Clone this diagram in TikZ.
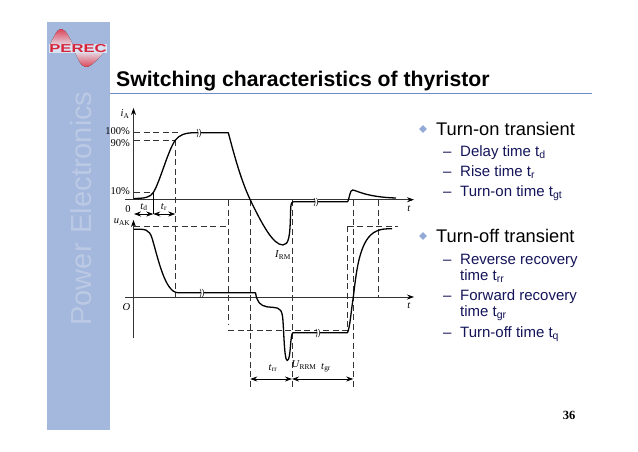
\documentclass[tikz,border=0pt]{standalone}
\usepackage{fontspec}
\setmainfont{Liberation Sans}
\newfontfamily\serifface{Liberation Serif}
\newfontfamily\logoface[FakeStretch=1.45]{Liberation Sans Bold}
\usetikzlibrary{arrows.meta,shapes.geometric}
\definecolor{panelblue}{HTML}{A3B8DC}
\definecolor{panelword}{HTML}{BBC9E4}
\definecolor{rulenavy}{HTML}{6F8CC8}
\definecolor{subnavy}{HTML}{14145A}
\definecolor{perecred}{HTML}{D8243A}
\tikzset{
  curve/.style={line width=1.3pt,line join=round},
  axis/.style={line width=0.7pt,black!80,-{Stealth[length=7pt,width=5pt,black]}},
  guide/.style={line width=0.6pt,dash pattern=on 6pt off 3.5pt,black!80},
  span/.style={line width=0.8pt,{Stealth[length=7pt,width=5pt]}-{Stealth[length=7pt,width=5pt]}},
  lab/.style={font=\serifface\fontsize{10.5}{10.5}\selectfont,inner sep=0pt},
  head/.style={font=\fontsize{18.3}{18.3}\selectfont,anchor=base west,inner sep=0pt},
  sub/.style={font=\fontsize{15}{15}\selectfont,anchor=base west,inner sep=0pt,text=subnavy},
  gem/.style={fill=rulenavy!75,inner sep=0pt,minimum size=8pt,diamond}
}
\newcommand{\ital}[2]{\textit{#1}\textsubscript{#2}}
\newcommand{\brk}[2]{
\fill[white] (#1-1.5,#2-3) rectangle (#1+1.5,#2+3);
\draw[line width=0.5pt] (#1-2,#2-4) .. controls (#1-0.5,#2-2) and (#1-0.5,#2+2) .. (#1-2,#2+4);
\draw[line width=0.5pt] (#1+0.5,#2-4) .. controls (#1+2,#2-2) and (#1+2,#2+2) .. (#1+0.5,#2+4);
}
\begin{document}
\begin{tikzpicture}[x=1pt,y=-1pt]
\useasboundingbox (0,0) rectangle (638,451);
\fill[white] (0,0) rectangle (638,451);
\fill[panelblue] (46.5,22) rectangle (109.5,430);
\node[rotate=90,text=panelword,font=\fontsize{29}{29}\selectfont,inner sep=0pt] (brand) at (81,208.5) {Power\hspace{10pt}Electronics};

\fill[top color=perecred!85,bottom color=white!70!panelblue] (49,47) .. controls (54,36) and (57,29) .. (61,29) .. controls (65,29) and (69,36) .. (74,47) -- cycle;
\fill[top color=white!70!panelblue,bottom color=perecred!85] (74,50) .. controls (78,59) and (81,67) .. (86,67) .. controls (91,67) and (98,59) .. (106,50) -- cycle;
\fill[white!60!panelblue] (49,44) rectangle (107,53);
\node[text=perecred,font=\logoface\fontsize{11.5}{12}\selectfont,inner sep=0pt] (logo) at (78,48.7) {PEREC};

\draw[rulenavy,line width=0.8pt] (109.5,93.5) -- (592,93.5);
\node[head,font=\bfseries\fontsize{21.2}{21.2}\selectfont] (title) at (116,86) {Switching characteristics of thyristor};

\draw[axis] (133.5,199.7) -- (133.5,108);
\draw[axis] (125,199.7) -- (414,199.7);
\draw[axis] (133.5,338) -- (133.5,220);
\draw[axis] (125,297) -- (414,297);

\draw[guide] (134,132.7) -- (180,132.7);
\draw[guide] (134,140.3) -- (175.3,140.3);
\draw[guide] (134,192.3) -- (153.3,192.3);
\draw[guide] (134,226) -- (228.3,226);
\draw[guide] (228.3,330.3) -- (347.7,330.3);
\draw[guide] (347.7,226) -- (398,226);
\draw[guide] (175.3,140.3) -- (175.3,297);
\draw[guide] (228.3,200) -- (228.3,325);
\draw[guide] (250.3,200) -- (250.3,387);
\draw[guide] (292,200) -- (292,387);
\draw[guide] (347.7,226) -- (347.7,330.3);
\draw[guide] (353.3,200) -- (353.3,387);
\draw[guide] (378.3,200) -- (378.3,297);
\draw[line width=0.5pt] (153.3,192.3) -- (153.3,214);

\draw[curve] (134,198.5) .. controls (145,198.3) and (150,197.5) .. (153.3,192.5) .. controls (160,182) and (168,150) .. (175.3,140.3) .. controls (179,135) and (185,132.7) .. (195,132.7) -- (228.3,132.7) .. controls (235,158) and (241,180) .. (250.3,200) .. controls (262,224) and (273,245) .. (283,245) .. controls (289,245) and (290,235) .. (290.5,215) .. controls (290.7,204) and (291,201.7) .. (294,201.7) -- (347.7,201.7) .. controls (349.5,198) and (350,190) .. (352.5,190) .. controls (356,190) and (365,197) .. (396,198);
\draw[curve] (134,229.3) .. controls (145,229) and (149,229) .. (152,238) .. controls (158,258) and (165,292.7) .. (178,292.7) -- (255.5,292.7) .. controls (257,302) and (260,305.5) .. (267,306.8) .. controls (276,308) and (281,306) .. (282.5,316) .. controls (284,328) and (284,360.5) .. (287.3,360.5) .. controls (291,360.5) and (290,333) .. (293,332.7) -- (347.5,332.7) .. controls (350,327) and (351,312) .. (353.3,297) .. controls (356,275) and (358,255) .. (366,241) .. controls (372,231) and (380,228.3) .. (392,228.8);
\brk{199}{133}
\brk{316}{202}
\brk{202}{293}
\brk{318}{333}

\coordinate (a0) at (134,214);
\coordinate (a1) at (153.3,214);
\coordinate (a2) at (175.3,214);
\coordinate (b0) at (250.3,379);
\coordinate (b1) at (292,379);
\coordinate (b2) at (353.3,379);
\draw[span] (a0) -- (a1);
\draw[span] (a1) -- (a2);
\draw[span] (b0) -- (b1);
\draw[span] (b1) -- (b2);

\node[lab] (ia) at (125,114) {\ital{i}{A}};
\node[lab,anchor=east] (p100) at (130,131) {100\%};
\node[lab,anchor=east] (p90) at (130,143) {90\%};
\node[lab,anchor=east] (p10) at (130,191) {10\%};
\node[lab] (zero) at (128,209) {0};
\node[lab] (td) at (144,207) {\ital{t}{d}};
\node[lab] (tr) at (164,207) {\ital{t}{r}};
\node[lab] (uak) at (122,222) {\ital{u}{AK}};
\node[lab] (irm) at (283,255) {\ital{I}{RM}};
\node[lab] (t1) at (409,209) {\textit{t}};
\node[lab] (o) at (126.5,307) {\textit{O}};
\node[lab] (t2) at (409,306) {\textit{t}};
\node[lab] (trr) at (273,368) {\ital{t}{rr}};
\node[lab] (urrm) at (304,365) {\ital{U}{RRM}};
\node[lab] (tgr) at (326,368) {\ital{t}{gr}};

\node[gem] (g1) at (423,129) {};
\node[gem] (g2) at (423,236) {};
\node[head] (on) at (436,135.5) {Turn-on transient};
\node[sub] (d1) at (443,156) {–};
\node[sub] (s1) at (460,156) {Delay time t\textsubscript{d}};
\node[sub] (d2) at (443,176) {–};
\node[sub] (s2) at (460,176) {Rise time t\textsubscript{r}};
\node[sub] (d3) at (443,196) {–};
\node[sub] (s3) at (460,196) {Turn-on time t\textsubscript{gt}};
\node[head] (off) at (436,242.5) {Turn-off transient};
\node[sub] (d4) at (443,264) {–};
\node[sub] (s4) at (460,264) {Reverse recovery};
\node[sub] (s4b) at (460,280) {time t\textsubscript{rr}};
\node[sub] (d5) at (443,300) {–};
\node[sub] (s5) at (460,300) {Forward recovery};
\node[sub] (s5b) at (460,316) {time t\textsubscript{gr}};
\node[sub] (d6) at (443,337) {–};
\node[sub] (s6) at (460,337) {Turn-off time t\textsubscript{q}};
\node[font=\serifface\bfseries\fontsize{12.5}{12.5}\selectfont,inner sep=0pt] (page) at (569,415) {36};
\end{tikzpicture}
\end{document}
